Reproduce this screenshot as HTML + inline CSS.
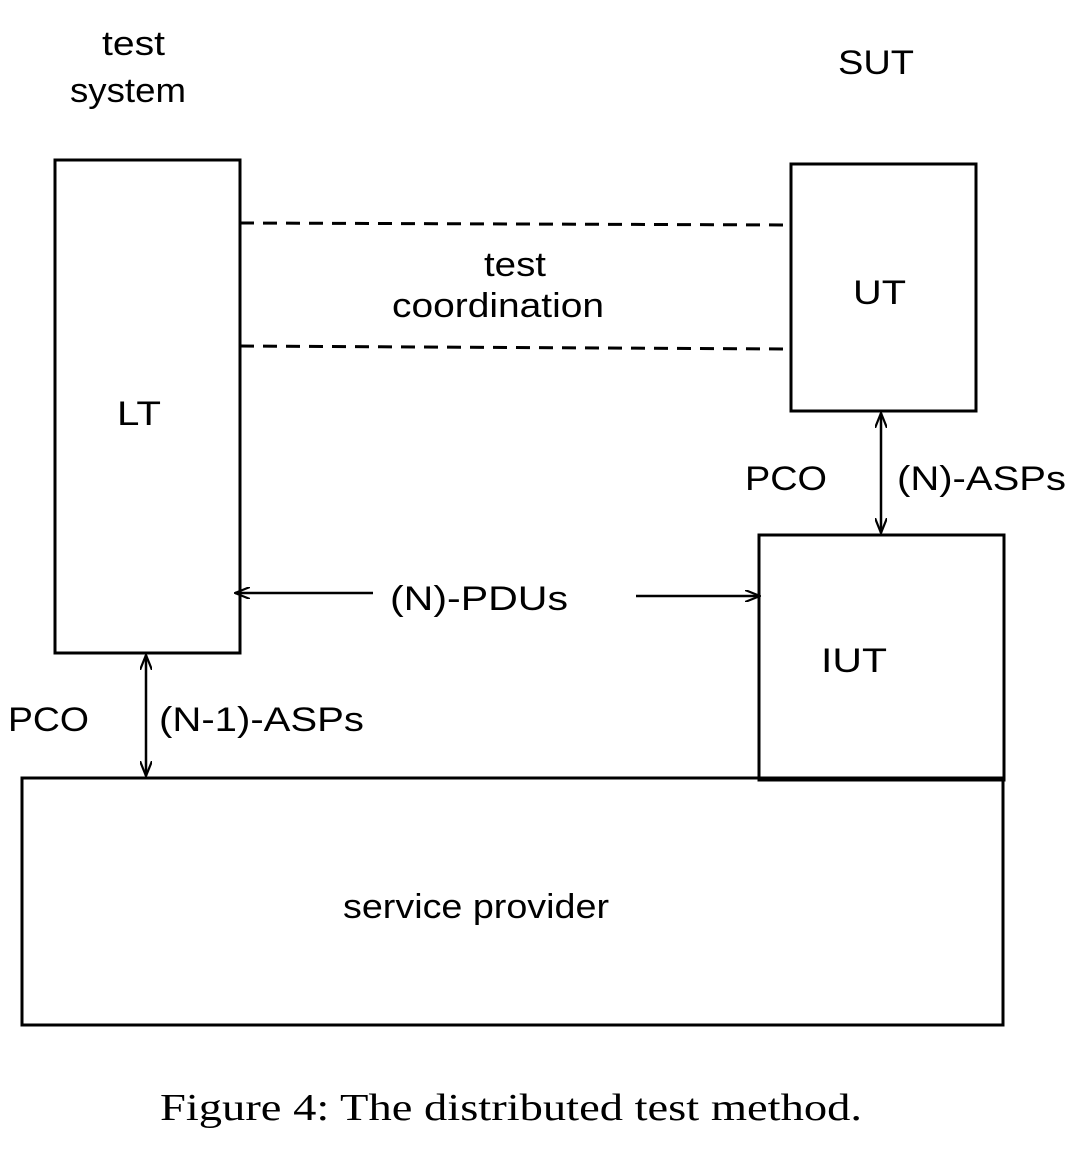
<!DOCTYPE html>
<html><head><style>body{margin:0;background:#fff}</style></head><body>
<svg width="1086" height="1149" xmlns="http://www.w3.org/2000/svg">
<defs>
<marker id="a" markerWidth="16" markerHeight="12" refX="15" refY="6" orient="auto-start-reverse" markerUnits="userSpaceOnUse">
<path d="M0,0 L15,6 L0,12" fill="none" stroke="#000" stroke-width="2.2"/></marker>
</defs>
<g fill="none" stroke="#000" stroke-width="3">
<rect x="55" y="160" width="185" height="493"/>
<rect x="791" y="164" width="185" height="247"/>
<rect x="759" y="535" width="245" height="245"/>
<rect x="22" y="778" width="981" height="247"/>
<line x1="240" y1="223" x2="791" y2="225" stroke-dasharray="14,9"/>
<line x1="240" y1="346" x2="791" y2="349" stroke-dasharray="14,9"/>
<line x1="881" y1="413" x2="881" y2="533" marker-start="url(#a)" marker-end="url(#a)" stroke-width="2.5"/>
<line x1="146" y1="655" x2="146" y2="776" marker-start="url(#a)" marker-end="url(#a)" stroke-width="2.5"/>
<line x1="373" y1="593" x2="235" y2="593" marker-end="url(#a)" stroke-width="2.5"/>
<line x1="636" y1="596" x2="760" y2="596" marker-end="url(#a)" stroke-width="2.5"/>
</g>
<g font-family="Liberation Sans, sans-serif" font-size="34" fill="#000" lengthAdjust="spacingAndGlyphs">
<text x="102" y="55" textLength="63" lengthAdjust="spacingAndGlyphs">test</text>
<text x="70" y="102" textLength="116" lengthAdjust="spacingAndGlyphs">system</text>
<text x="838" y="74" textLength="76" lengthAdjust="spacingAndGlyphs">SUT</text>
<text x="117" y="425" textLength="44" lengthAdjust="spacingAndGlyphs">LT</text>
<text x="484" y="276" textLength="62" lengthAdjust="spacingAndGlyphs">test</text>
<text x="392" y="317" textLength="212" lengthAdjust="spacingAndGlyphs">coordination</text>
<text x="853" y="304" textLength="53" lengthAdjust="spacingAndGlyphs">UT</text>
<text x="745" y="490" textLength="82" lengthAdjust="spacingAndGlyphs">PCO</text>
<text x="897" y="490" textLength="169" lengthAdjust="spacingAndGlyphs">(N)-ASPs</text>
<text x="390" y="610" textLength="178" lengthAdjust="spacingAndGlyphs">(N)-PDUs</text>
<text x="821" y="672" textLength="66" lengthAdjust="spacingAndGlyphs">IUT</text>
<text x="8" y="731" textLength="81" lengthAdjust="spacingAndGlyphs">PCO</text>
<text x="159" y="731" textLength="205" lengthAdjust="spacingAndGlyphs">(N-1)-ASPs</text>
<text x="343" y="918" textLength="266" lengthAdjust="spacingAndGlyphs">service provider</text>
</g>
<text x="160" y="1120" font-family="Liberation Serif, serif" font-size="38" textLength="702" lengthAdjust="spacingAndGlyphs">Figure 4: The distributed test method.</text>
</svg>
</body></html>
